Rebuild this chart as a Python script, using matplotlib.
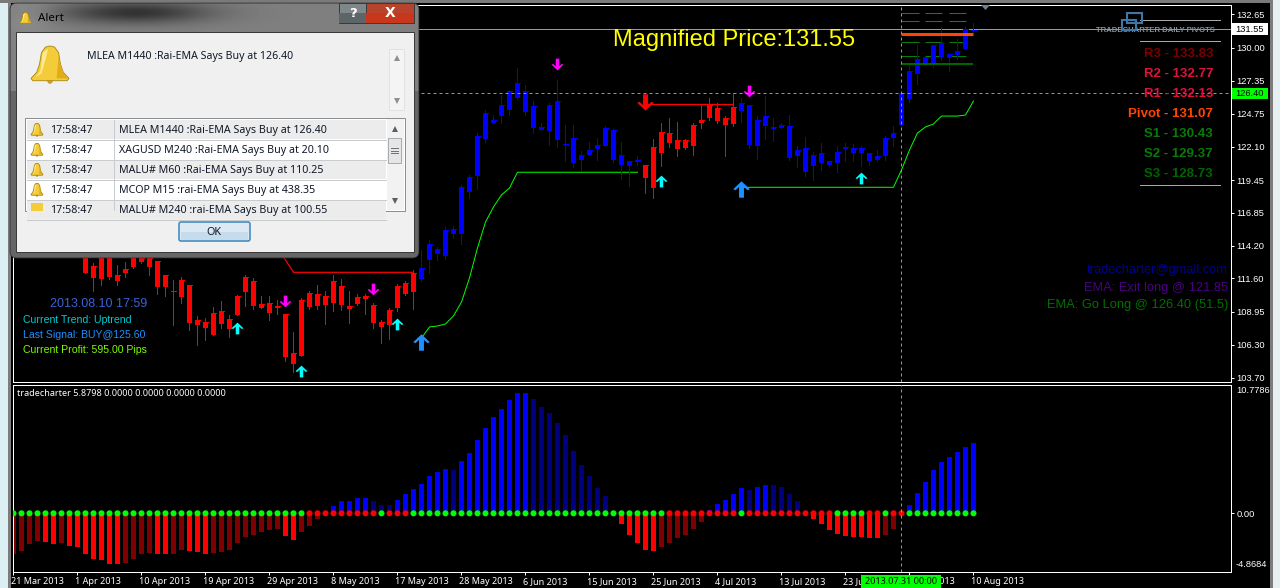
import numpy as np
import matplotlib
matplotlib.use("Agg")
import matplotlib.pyplot as plt
from matplotlib.patches import Rectangle, FancyBboxPatch, Polygon, Circle
from matplotlib.path import Path
from matplotlib.transforms import ScaledTranslation

# ---------- price data (bars 0-8 and tops of 9-19 sit behind the dialog: estimated) ----------
body_top = [116.5,116.8,117.0,116.4,116.2,116.0,116.3,115.9,115.6,115.2,
 112.59,113.34,113.34,111.87,112.35,113.34,113.20,113.20,112.99,111.87,
 110.63,111.48,111.08,108.29,108.13,108.84,109.00,108.37,110.20,111.74,
 111.37,109.56,109.64,109.40,108.76,105.65,109.88,110.44,110.36,110.20,
 111.40,111.00,109.40,110.12,110.20,109.48,108.13,109.08,111.00,111.24,
 112.03,112.43,114.35,113.95,115.46,115.54,118.89,119.69,122.96,124.79,
 124.24,125.43,126.55,127.19,126.55,125.35,123.68,125.43,125.75,122.35,
 122.80,121.44,121.84,122.24,123.60,123.44,121.44,120.97,121.05,120.65,
 122.08,123.28,123.20,122.64,122.64,123.84,124.24,125.43,125.19,124.40,
 125.27,125.59,125.43,124.24,124.55,123.68,123.84,123.76,121.84,122.00,
 121.44,121.60,120.97,121.68,122.08,122.00,122.00,121.60,121.37,122.80,
 123.20,126.36,128.14,129.10,129.26,130.22,130.35,129.50,129.74,131.49,131.41]
body_bottom = [115.8,116.0,116.2,115.7,115.5,115.3,115.4,115.2,114.9,112.01,
 111.66,111.56,111.69,111.40,112.01,112.49,112.94,112.49,110.94,110.94,
 110.55,110.09,108.02,107.89,107.65,107.09,107.97,107.54,108.68,110.55,
 109.40,109.24,108.84,109.24,105.33,104.75,105.42,109.32,109.40,109.48,
 109.64,109.48,109.16,109.56,109.96,108.05,107.73,107.89,109.24,110.36,
 110.51,111.56,113.07,113.55,113.39,115.14,115.14,118.49,119.77,122.72,
 124.00,124.55,125.03,125.99,124.87,123.60,123.44,123.36,122.64,122.32,
 120.81,121.05,121.44,121.92,122.16,121.05,120.65,120.57,120.89,119.61,
 118.81,121.60,122.40,121.92,122.00,122.16,124.00,124.40,124.16,123.84,
 123.92,124.95,122.24,122.16,123.76,123.52,123.60,121.21,121.37,120.09,
 120.57,120.81,120.65,120.81,121.92,121.60,121.60,120.97,121.05,121.37,
 122.80,123.84,125.91,127.90,128.78,128.78,129.29,129.18,129.42,129.90,131.36]
bar_high = [116.8,117.1,117.3,116.7,116.5,116.3,116.6,116.2,115.9,115.6,
 112.80,114.20,113.90,112.67,112.94,113.80,113.60,113.60,113.00,111.87,
 111.48,111.69,111.08,108.60,108.42,109.35,109.80,108.68,110.28,111.87,
 111.66,110.20,110.20,109.88,108.76,107.33,110.01,110.60,111.08,110.60,
 111.90,111.56,110.60,110.36,110.33,109.64,108.29,109.24,111.16,111.42,
 112.27,113.87,114.67,114.13,115.73,115.78,119.05,119.85,123.17,125.03,
 124.63,126.23,126.63,128.38,127.03,125.75,124.00,125.59,127.43,123.84,
 123.84,121.76,122.48,122.80,123.76,123.52,122.48,120.97,121.37,120.65,
 122.72,124.00,124.40,124.08,122.72,124.00,125.43,125.99,125.59,124.55,
 126.36,125.99,125.43,124.55,126.15,124.40,124.00,124.63,122.16,122.88,
 121.68,122.40,120.97,122.16,122.40,122.32,122.16,121.60,121.84,122.96,
 123.76,126.40,128.62,130.22,129.26,130.22,131.63,129.55,130.70,131.63,131.97]
bar_low = [115.5,115.7,115.9,115.4,115.2,115.0,115.1,114.9,114.6,112.01,
 110.63,111.08,111.53,111.08,111.74,112.41,112.80,111.87,110.36,110.23,
 107.89,109.67,107.49,106.29,106.69,107.09,107.62,106.96,108.68,109.40,
 109.16,109.24,108.29,108.76,105.04,104.17,105.42,109.16,109.16,107.97,
 109.00,109.08,108.05,109.48,108.76,107.65,106.45,106.77,109.00,110.28,
 109.16,111.40,112.03,113.07,113.12,114.85,114.35,118.01,118.73,122.48,
 124.00,124.00,124.63,125.91,124.63,123.17,123.44,122.24,122.08,120.97,
 120.49,120.25,121.44,121.05,122.16,120.89,119.53,118.97,120.65,118.41,
 118.01,120.57,122.08,121.37,121.92,121.44,123.60,124.24,124.00,121.37,
 123.76,124.08,122.00,121.13,122.72,122.56,123.60,121.05,120.49,119.77,
 119.45,120.25,120.57,120.09,120.97,120.97,120.57,120.65,120.97,121.05,
 122.16,123.84,125.70,127.11,128.62,128.49,129.02,128.14,129.10,129.90,131.28]
candle_trend = 'r'*51 + 'b'*28 + 'r'*12 + 'b'*30

# trailing-stop lines
up_line1_bars = list(range(51, 79))
up_line1 = [106.85,107.73,107.81,107.97,108.61,109.72,111.64,114.03,116.10,117.30,118.26,118.81,
            120.07,120.07,120.07,120.07,120.07,120.07,120.07,120.07,120.07,120.07,120.07,120.07,120.07,120.07,120.07,120.07]
up_line2_bars = list(range(91, 121))
up_line2 = [118.87]*20 + [120.25,121.84,123.20,123.68,123.92,124.55,124.55,124.55,124.63,125.75]
down_line1_bars = list(range(33, 51))
down_line1 = [113.87,113.07] + [112.09]*16
down_line2_bars = list(range(79, 91))
down_line2 = [125.49]*12

# signal arrows (bar, price)
cyan_up = [(28,107.67),(36,104.24),(48,107.97),(81,119.37),(106,119.61)]
magenta_down = [(34,109.82),(45,110.76),(68,128.73),(92,126.57)]
big_up = [(51,106.56),(91,118.73)]
big_down = [(79,125.70)]

# pivots
pivot_R2, pivot_R1, pivot_P, pivot_S1, pivot_S2, pivot_S3 = 132.77, 132.13, 131.07, 130.43, 129.37, 128.73
pivot_table = [("R3 - 133.83","#7A0000"),("R2 - 132.77","#DC143C"),("R1 - 132.13","#DC143C"),
               ("Pivot - 131.07","#FF4500"),("S1 - 130.43","#0A7A0A"),("S2 - 129.37","#0A7A0A"),("S3 - 128.73","#006400")]
bid_price = 131.50
cross_price = 126.37
cross_bar = 111

# indicator histogram
hist_values = [-3.40,-3.15,-2.56,-2.31,-2.39,-2.56,-2.48,-2.73,-2.81,-3.40,
 -3.83,-3.91,-4.25,-4.25,-4.16,-3.83,-3.40,-3.32,-3.40,-3.40,
 -3.40,-3.07,-3.15,-3.23,-3.40,-3.32,-3.23,-3.07,-2.48,-1.97,
 -1.80,-1.55,-1.38,-1.29,-1.88,-2.22,-1.55,-1.04,-0.45,-0.05,
 0.65,1.07,1.07,1.24,1.32,1.07,0.73,0.73,1.15,1.58,
 2.00,2.42,3.09,3.43,3.68,3.60,4.36,5.04,6.13,7.14,
 8.07,8.75,9.51,10.10,10.10,9.59,8.92,8.41,7.57,6.55,
 5.20,4.02,3.09,2.08,1.41,0.05,-0.87,-1.80,-2.48,-3.07,
 -3.15,-2.81,-2.48,-2.05,-1.80,-1.29,-0.70,0.28,0.82,1.15,
 1.58,2.08,1.91,2.17,2.33,2.33,2.17,1.58,1.07,-0.05,
 -0.45,-0.87,-1.38,-1.72,-1.88,-1.97,-1.97,-2.05,-2.05,-1.80,
 -1.29,-0.05,0.73,1.74,2.59,3.60,4.28,4.70,5.12,5.54,5.88]
hist_shade = ('dddd'+'bb'+'d'+'bbbbbbb'+'dddd'+'bb'+'dd'+'bbb'+'ddddddddd'+'bb'+'dddd'
              +'bbbbb'+'ddd'+'bbbbbbb'+'d'+'bbbbbbbbb'+'ddddddddddd'+'bbbbb'+'dddddd'
              +'bbbbb'+'d'+'bb'+'ddddd'+'bbbbbbbbb'+'ddd'+'bbbbbbbbb')
red_dots = [37,38,39,40,41,42,43,44,45,47,48,49]+list(range(82,91))+list(range(92,103))+[107,108,110,111]

# axis labels
price_ticks = [132.65,130.00,127.35,124.75,122.10,119.45,116.85,114.20,111.60,108.95,106.30,103.70]
date_tick_bars = list(range(0, 121, 8))
date_labels = ["21 Mar 2013","1 Apr 2013","10 Apr 2013","19 Apr 2013","29 Apr 2013","8 May 2013","17 May 2013",
               "28 May 2013","6 Jun 2013","15 Jun 2013","25 Jun 2013","4 Jul 2013","13 Jul 2013","23 Jul 2013",
               "1 Aug 2013","10 Aug 2013"]
alert_rows = ["MLEA M1440 :Rai-EMA Says Buy at 126.40","XAGUSD M240 :Rai-EMA Says Buy at 20.10",
              "MALU# M60 :Rai-EMA Says Buy at 110.25","MCOP M15 :rai-EMA Says Buy at 438.35",
              "MALU# M240 :rai-EMA Says Buy at 100.55"]
alert_time = "17:58:47"

# ---------- layout ----------
W, H = 1280, 588
UI = "Noto Sans"
ARIAL = "Liberation Sans"
plt.rcParams['font.family'] = [UI, 'DejaVu Sans']
fig = plt.figure(figsize=(W/100, H/100), dpi=100, facecolor='black')

def box(x0, y0, x1, y1):
    return [x0/W, 1-y1/H, (x1-x0)/W, (y1-y0)/H]

XLIM = (-0.125, 152.19)
ax = fig.add_axes(box(12.5, 4.5, 1231, 381.5), facecolor='black')
sub = fig.add_axes(box(12.5, 384.5, 1231, 571.5), facecolor='black', sharex=ax)
ax.set_xlim(*XLIM)
ax.set_ylim(103.382, 133.447)
sub.set_ylim(-4.8684, 10.7786)

PX = 0.72
bars = np.arange(len(body_top))
BLUE, RED = '#0000FF', '#FF0000'
ccol = [RED if t == 'r' else BLUE for t in candle_trend]

# lines under candles
ax.axhline(bid_price, color='#9A9A9A', lw=PX, zorder=1)
ax.axhline(cross_price, color='#00FF00', lw=PX, ls=(0,(3,3)), zorder=6)
for a in (ax, sub):
    a.axvline(cross_bar, color='#00FF00', lw=PX, ls=(0,(3,3)), zorder=6)

seg_start = [111, 113.9, 116.9]
for p, c in [(pivot_R2,'#DC143C'),(pivot_R1,'#DC143C'),(pivot_S1,'#0A7A0A'),(pivot_S2,'#0A7A0A')]:
    for s in seg_start:
        ax.hlines(p, s, s+2.2, color=c, lw=PX, zorder=1)

# candles
ax.vlines(bars, bar_low, bar_high, colors=ccol, lw=PX, zorder=3, antialiased=False)
ax.bar(bars, np.array(body_top)-np.array(body_bottom), bottom=body_bottom, width=0.64,
       color=ccol, linewidth=0, zorder=3, antialiased=False)
ax.hlines(body_top, bars-0.31, bars+0.31, colors=ccol, lw=PX, zorder=3, antialiased=False)

ax.hlines(pivot_P, 111, 120, color='#FF4500', lw=2.2, zorder=4)
ax.hlines(pivot_S3, 111, 120, color='#006400', lw=1.5, zorder=4)

ax.plot(up_line1_bars, up_line1, color='#00FF00', lw=PX, zorder=2)
ax.plot(up_line2_bars, up_line2, color='#00FF00', lw=PX, zorder=2)
ax.plot(down_line1_bars, down_line1, color='#FF0000', lw=PX*1.2, zorder=2)
ax.plot(down_line2_bars, down_line2, color='#FF0000', lw=PX*1.2, zorder=2)

up_verts = [(0,1),(1,0.05),(0.75,-0.1),(0.3,0.3),(0.3,-1),(-0.3,-1),(-0.3,0.3),(-0.75,-0.1),(-1,0.05),(0,1)]
up_path = Path(up_verts, closed=True)
down_path = Path([(x,-y) for x,y in up_verts], closed=True)
def arrows(pts, path, col, s):
    ax.scatter([p[0] for p in pts], [p[1] for p in pts], marker=path, s=s, color=col, linewidths=0, zorder=5)
arrows(cyan_up, up_path, '#00FFFF', 72)
arrows(magenta_down, down_path, '#FF00FF', 72)
arrows(big_up, up_path, '#1E90FF', 140)
arrows(big_down, down_path, '#FF0000', 140)

# indicator
hv = np.array(hist_values)
hcol = []
for v, s in zip(hist_values, hist_shade):
    if v >= 0:
        hcol.append('#0000FF' if s == 'b' else '#00007F')
    else:
        hcol.append('#FF0000' if s == 'b' else '#7F0000')
sub.bar(bars, hv, width=0.64, color=hcol, linewidth=0, zorder=2, antialiased=False)
dot_col = ['#FF0000' if i in red_dots else '#00FF00' for i in bars]
sub.scatter(bars, np.zeros(len(bars)), s=19, color=dot_col, linewidths=0, zorder=4)

# axes style
for a in (ax, sub):
    for s in a.spines.values():
        s.set_color('white'); s.set_linewidth(PX)
    a.yaxis.tick_right()
    a.tick_params(axis='y', colors='white', length=2.5, width=PX, pad=1.2, labelsize=6.7)
ax.set_yticks(price_ticks)
ax.set_yticklabels([f"{v:.2f}" for v in price_ticks], family=ARIAL)
sub.set_yticks([0])
sub.set_yticklabels(["0.00"], family=ARIAL)
ax.tick_params(axis='x', bottom=False, labelbottom=False)
sub.set_xticks(date_tick_bars)
sub.set_xticklabels(date_labels, ha='left', family=UI)
sub.tick_params(axis='x', colors='white', length=2.5, width=PX, pad=1.2, labelsize=6.5)
sub.set_xlim(*XLIM)
off = ScaledTranslation(-1.5/72, 0, fig.dpi_scale_trans)
for lab in sub.get_xticklabels():
    lab.set_transform(lab.get_transform() + off)

# ---------- overlay: everything laid out in screen pixels ----------
ov = fig.add_axes([0, 0, 1, 1], zorder=20)
ov.set_xlim(0, W); ov.set_ylim(H, 0); ov.axis('off'); ov.patch.set_alpha(0)

def T(x, y, s, color='black', size=8, ha='left', va='center', family=UI, weight='normal', **kw):
    return ov.text(x, y+1.2, s, color=color, fontsize=size, ha=ha, va=va, family=family, weight=weight, **kw)
def R(x0, y0, x1, y1, fc, ec='none', lw=0, z=1, **kw):
    p = Rectangle((x0, y0), x1-x0, y1-y0, facecolor=fc, edgecolor=ec, linewidth=lw, zorder=z, **kw)
    ov.add_patch(p)
    return p

# window edges
R(0, 0, 8, H, '#DCEFF3', z=1)
R(8, 0, 11, H, '#7C7C7C', z=1)
R(0, 0, W, 3, '#7A7A7A', z=1)
R(1270, 0, 1273, H, '#7C7C7C', z=1)
R(1273, 0, W, H, '#E6EFF2', z=1)

# chart texts
T(613, 38.5, "Magnified Price:131.55", color='#FFFF00', size=17, family=ARIAL)
T(50, 303, "2013.08.10 17:59", color='#3A62D8', size=9, family=ARIAL)
T(23, 318.5, "Current Trend: Uptrend", color='#00CED1', size=7.6, family=ARIAL)
T(23, 333.5, "Last Signal: BUY@125.60", color='#1E90FF', size=7.6, family=ARIAL)
T(23, 348.5, "Current Profit: 595.00 Pips", color='#7CFC00', size=7.6, family=ARIAL)
T(1228, 269, "tradecharter@gmail.com", color='#00008B', size=9.3, ha='right', family=ARIAL)
T(1228, 286.5, "EMA: Exit long @ 121.85", color='#4B0082', size=9.3, ha='right', family=ARIAL)
T(1228, 304, "EMA: Go Long @ 126.40 (51.5)", color='#007000', size=9.3, ha='right', family=ARIAL)
T(17, 392, "tradecharter 5.8798 0.0000 0.0000 0.0000 0.0000", color='white', size=6.5)
T(1236, 389.5, "10.7786", color='white', size=6.7, family=ARIAL)
T(1236, 563, "-4.8684", color='white', size=6.7, family=ARIAL)

# pivot panel
for yy in (20, 40.7, 185):
    ov.plot([1140, 1220], [yy, yy], color='#A8A8A8', lw=PX, zorder=2)
for (s, c), yy in zip(pivot_table, (52.5, 72.5, 92.5, 112.5, 132.5, 152.5, 172.5)):
    T(1213, yy, s, color=c, size=9.5, ha='right', family=ARIAL, weight='bold', zorder=2)
T(1215, 29.5, "TRADECHARTER DAILY PIVOTS", color='#87929B', size=5.6, ha='right', family=ARIAL, weight='bold', zorder=3)
R(1127, 13, 1142, 23, 'none', ec='#3F76A8', lw=1.5, z=3)
R(1122, 20, 1136, 30, 'none', ec='#3F76A8', lw=1.5, z=3)
ov.add_patch(Polygon([(981,5),(990,5),(985.5,10)], closed=True, fc='#708090', ec='none', zorder=3))

# price / time flags
R(1232, 23, 1268, 34.5, 'white', z=3)
T(1250, 28, "131.55", color='black', size=6.7, ha='center', family=ARIAL, zorder=4)
R(1232, 87.5, 1268, 98.5, '#00FF00', z=3)
T(1250, 92, "126.40", color='black', size=6.7, ha='center', family=ARIAL, zorder=4)
R(861, 575, 941, 588, '#00FF00', z=3)
T(901, 580, "2013.07.31 00:00", color='black', size=6.5, ha='center', zorder=4)

# ---------- dialog ----------
frame = FancyBboxPatch((12, 5), 405, 251, boxstyle="round,pad=0,rounding_size=5", fc='#6A7073', ec='#2E3234', lw=1.2, zorder=5, mutation_aspect=1)
frame.set_boxstyle("round,pad=1.5,rounding_size=6")
ov.add_patch(frame)
yy, xx = np.mgrid[0:260, 0:420]
g = 0.50 - 0.30*np.exp(-((xx-135)/75.0)**2)*np.exp(-((yy-12)/11.0)**2) + 0.06*np.exp(-((xx-30)/25.0)**2)*np.exp(-((yy-15)/20.0)**2)
g = g - 0.10*(yy > 90)
im = ov.imshow(g, extent=(0, 420, 260, 0), cmap='gray', vmin=0, vmax=1, aspect='auto', zorder=5.1, interpolation='bilinear')
im.set_clip_path(frame)
ov.set_xlim(0, W); ov.set_ylim(H, 0)
Z = 6
R(16, 32, 414, 252, '#F0F0F0', ec='#3A3A3A', lw=PX, z=Z)

def bell(cx, top, w, h, z=Z+1):
    shape = [(-0.08,0.03),(0.08,0.03),(0.25,0.06),(0.45,0.2),(0.55,0.5),(0.7,0.72),(1.0,0.88),(0.9,0.94),
             (-0.9,0.94),(-1,0.88),(-0.7,0.72),(-0.55,0.5),(-0.45,0.2),(-0.25,0.06)]
    pts = [(cx+u*w/2, top+v*h) for u,v in shape]
    ov.add_patch(Circle((cx, top+0.95*h), 0.05*h+0.3, fc='#D9A81E', ec='#A07C10', lw=0.4, zorder=z))
    ov.add_patch(Polygon(pts, closed=True, fc='#F4CC3A', ec='#A58312', lw=0.6, zorder=z))
    hi = [(-0.38,0.2),(-0.1,0.1),(-0.22,0.35),(-0.45,0.75),(-0.75,0.84),(-0.5,0.68)]
    ov.add_patch(Polygon([(cx+u*w/2, top+v*h) for u,v in hi], closed=True, fc='#FCEB92', ec='none', zorder=z))
    ov.add_patch(Polygon([(cx+u*w/2, top+v*h) for u,v in [(0.45,0.3),(0.55,0.5),(0.7,0.72),(0.95,0.88),(0.35,0.88)]],
                         closed=True, fc='#E0AC1C', ec='none', zorder=z))

bell(25.5, 12, 12, 12)
T(38, 17, "Alert", color='black', size=8.3, zorder=Z)
bell(50, 45, 38, 38)
T(87, 55.5, alert_rows[0], color='#101828', size=7.6, zorder=Z)

# title bar buttons
R(339, 3, 366, 23, '#80878A', ec='#3A3A3A', lw=PX, z=Z)
R(339, 13, 366, 23, '#5E6568', z=Z)
R(366, 3, 414, 23, '#B8432C', ec='#3A3A3A', lw=PX, z=Z)
R(366, 13, 414, 23, '#C8361C', z=Z)
T(352.5, 12, "?", color='white', size=9.5, ha='center', weight='bold', zorder=Z+1, family='DejaVu Sans')
T(390, 12, "X", color='white', size=10, ha='center', weight='bold', zorder=Z+1, family='DejaVu Sans')

# message scroll strip
R(389, 49, 404, 110, '#F4F4F4', ec='#E2E2E2', lw=PX, z=Z)
for (px, py, m) in [(397, 58, '^'), (397, 101, 'v')]:
    ov.plot(px, py, marker=m, ms=4.5, color='#8A9096', mew=0, zorder=Z+1)

# list
R(25, 118, 405, 211, 'white', ec='#8A8F94', lw=PX, z=Z)
row_tops = [120, 140, 160, 180, 200]
clip = R(26, 119, 387, 210.5, 'none', z=Z)
for n, (rt, msg) in enumerate(zip(row_tops, alert_rows)):
    rc = '#ECECEC' if n % 2 == 0 else 'white'
    R(27, rt, 386, rt+19, rc, z=Z+0.1, clip_path=clip)
    ov.plot([27, 386], [rt+19.5, rt+19.5], color='#C8CCCF', lw=PX, zorder=Z+0.2, clip_path=clip)
    t1 = T(50, rt+9.5, alert_time, color='#101828', size=7.7, zorder=Z+0.3)
    t2 = T(119, rt+9.5, msg, color='#101828', size=7.7, zorder=Z+0.3)
    t1.set_clip_path(clip); t2.set_clip_path(clip)
    if rt < 200:
        bell(37, rt+3, 12, 13, z=Z+0.3)
    else:
        R(31, 203, 43, 210.5, '#F4CC3A', z=Z+0.3)
ov.plot([114, 114], [120, 210], color='#C8CCCF', lw=PX, zorder=Z+0.25)
R(387, 119, 404, 210, '#F2F2F2', z=Z+0.2)
R(388, 138, 401, 163, '#E4E6E8', ec='#A8ACB0', lw=PX, z=Z+0.3)
for yy_ in (148, 150.5, 153):
    ov.plot([391, 398], [yy_, yy_], color='#70757A', lw=PX, zorder=Z+0.4)
for (px, py, m) in [(395, 129, '^'), (395, 201, 'v')]:
    ov.plot(px, py, marker=m, ms=4.5, color='#5A6066', mew=0, zorder=Z+0.4)

# OK button
ov.add_patch(FancyBboxPatch((179, 222), 71, 19, boxstyle="round,pad=0,rounding_size=2", fc='#DCE9F3', ec='#3A86BC', lw=1.1, zorder=Z))
R(181, 232, 248, 239.5, '#C4DCEC', z=Z+0.1)
T(214, 231, "OK", color='#101828', size=7.85, ha='center', zorder=Z+0.3)

ov.set_xlim(0, W); ov.set_ylim(H, 0)
fig.savefig("out.png", dpi=100, facecolor='black')
